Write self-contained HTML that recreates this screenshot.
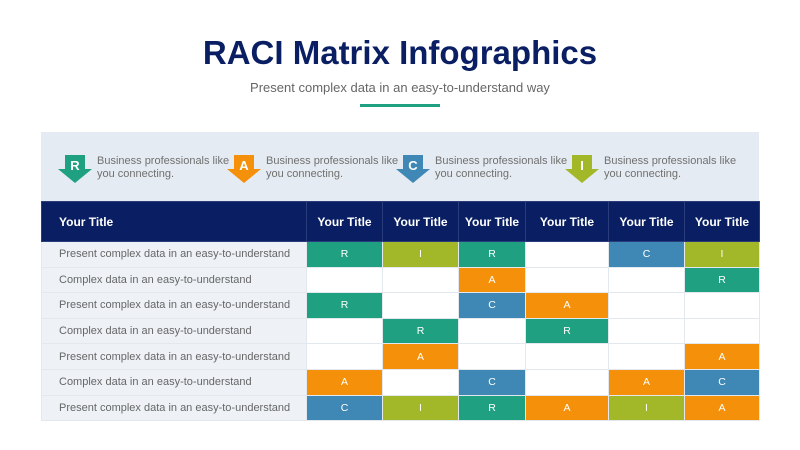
<!DOCTYPE html>
<html><head><meta charset="utf-8"><style>
*{margin:0;padding:0;box-sizing:border-box}
body{width:800px;height:450px;background:#fff;font-family:"Liberation Sans",sans-serif;position:relative;overflow:hidden}
.t{position:absolute;left:0;width:800px;text-align:center}
.band{position:absolute;left:41px;top:132px;width:718px;height:69px;background:#e5ebf2}
.ic{position:absolute;top:155px;width:34px;height:28px}
.lt{position:absolute;top:155px;font-size:11px;color:#707070;line-height:13px}
table{position:absolute;left:41px;top:201px;border-collapse:collapse;table-layout:fixed}
td,th{height:25.6px;font-size:10.5px;text-align:center;color:#fff;border:1px solid #e3e8ee}
th{background:#0a1f63;height:40px;font-size:12px;font-weight:bold;border-color:#2a3d7a}
td.l{text-align:left;padding-left:17px;color:#666;background:#eef2f7;font-size:11px}
th.l{text-align:left;padding-left:17px}
.g{background:#1fa080}.o{background:#a3b828}.a{background:#f5900a}.b{background:#3f88b5}
</style></head><body>
<div class="t" style="top:34px;font-size:33px;font-weight:bold;color:#0a1f63">RACI Matrix Infographics</div>
<div class="t" style="top:80px;font-size:13px;color:#666">Present complex data in an easy-to-understand way</div>
<div style="position:absolute;left:360px;top:104px;width:80px;height:3px;background:#1fa080"></div>
<div class="band"></div>
<svg class="ic" style="left:58px" viewBox="0 0 34 28"><path d="M7 0h20v14h7L17 28 0 14h7z" fill="#1fa080"/><text x="17" y="15" font-size="13" font-weight="bold" fill="#fff" text-anchor="middle" font-family="Liberation Sans">R</text></svg>
<div class="lt" style="left:97px">Business professionals like<br>you connecting.</div>
<svg class="ic" style="left:227px" viewBox="0 0 34 28"><path d="M7 0h20v14h7L17 28 0 14h7z" fill="#f5900a"/><text x="17" y="15" font-size="13" font-weight="bold" fill="#fff" text-anchor="middle" font-family="Liberation Sans">A</text></svg>
<div class="lt" style="left:266px">Business professionals like<br>you connecting.</div>
<svg class="ic" style="left:396px" viewBox="0 0 34 28"><path d="M7 0h20v14h7L17 28 0 14h7z" fill="#3f88b5"/><text x="17" y="15" font-size="13" font-weight="bold" fill="#fff" text-anchor="middle" font-family="Liberation Sans">C</text></svg>
<div class="lt" style="left:435px">Business professionals like<br>you connecting.</div>
<svg class="ic" style="left:565px" viewBox="0 0 34 28"><path d="M7 0h20v14h7L17 28 0 14h7z" fill="#a3b828"/><text x="17" y="15" font-size="13" font-weight="bold" fill="#fff" text-anchor="middle" font-family="Liberation Sans">I</text></svg>
<div class="lt" style="left:604px">Business professionals like<br>you connecting.</div>
<table>
<colgroup><col style="width:265px"><col style="width:76px"><col style="width:76px"><col style="width:67px"><col style="width:83px"><col style="width:76px"><col style="width:75px"></colgroup>
<tr><th class="l">Your Title</th><th>Your Title</th><th>Your Title</th><th>Your Title</th><th>Your Title</th><th>Your Title</th><th>Your Title</th></tr>
<tr><td class="l">Present complex data in an easy-to-understand</td><td class="g">R</td><td class="o">I</td><td class="g">R</td><td></td><td class="b">C</td><td class="o">I</td></tr>
<tr><td class="l">Complex data in an easy-to-understand</td><td></td><td></td><td class="a">A</td><td></td><td></td><td class="g">R</td></tr>
<tr><td class="l">Present complex data in an easy-to-understand</td><td class="g">R</td><td></td><td class="b">C</td><td class="a">A</td><td></td><td></td></tr>
<tr><td class="l">Complex data in an easy-to-understand</td><td></td><td class="g">R</td><td></td><td class="g">R</td><td></td><td></td></tr>
<tr><td class="l">Present complex data in an easy-to-understand</td><td></td><td class="a">A</td><td></td><td></td><td></td><td class="a">A</td></tr>
<tr><td class="l">Complex data in an easy-to-understand</td><td class="a">A</td><td></td><td class="b">C</td><td></td><td class="a">A</td><td class="b">C</td></tr>
<tr><td class="l">Present complex data in an easy-to-understand</td><td class="b">C</td><td class="o">I</td><td class="g">R</td><td class="a">A</td><td class="o">I</td><td class="a">A</td></tr>
</table>
</body></html>
